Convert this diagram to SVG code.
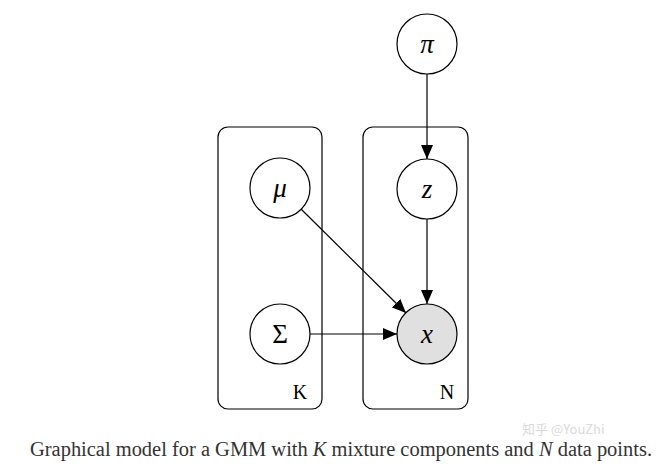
<svg xmlns="http://www.w3.org/2000/svg" width="665" height="471" viewBox="0 0 665 471">
<style>
.n{fill:#fff;stroke:#000;stroke-width:1.2}
.p{fill:none;stroke:#000;stroke-width:1.2}
.e{stroke:#000;stroke-width:1.2;fill:none;marker-end:url(#a)}
.m{font-family:"Liberation Serif",serif;font-style:italic;font-size:27px;text-anchor:middle}
.l{font-family:"Liberation Serif",serif;font-size:20px;text-anchor:middle}
</style>
<defs><marker id="a" viewBox="0 0 14 12" refX="14" refY="6" markerWidth="14" markerHeight="12" markerUnits="userSpaceOnUse" orient="auto"><path d="M0,0L14,6L0,12z"/></marker></defs>
<rect width="665" height="471" fill="#fff"/>
<g id="plateK"><rect class="p" x="218" y="127" width="104" height="282" rx="10"/><text class="l" x="300" y="399">K</text></g>
<g id="plateN"><rect class="p" x="363" y="127" width="105" height="282" rx="10"/><text class="l" x="447" y="399">N</text></g>
<g id="edges">
<line class="e" x1="427" y1="74" x2="427" y2="159"/>
<line class="e" x1="427" y1="219" x2="427" y2="304"/>
<line class="e" x1="301" y1="209" x2="406" y2="313"/>
<line class="e" x1="310" y1="334" x2="397" y2="334"/>
</g>
<g id="pi"><circle class="n" cx="427" cy="44" r="30"/><text class="m" x="427" y="53">π</text></g>
<g id="z"><circle class="n" cx="427" cy="189" r="30"/><text class="m" x="427" y="198">z</text></g>
<g id="x"><circle class="n" cx="427" cy="334" r="30" style="fill:#e0e0e0"/><text class="m" x="427" y="343">x</text></g>
<g id="mu"><circle class="n" cx="280" cy="188" r="30"/><text class="m" x="280" y="197">μ</text></g>
<g id="sigma"><circle class="n" cx="280" cy="334" r="30"/><text class="m" x="280" y="343" style="font-style:normal">Σ</text></g>
<text x="30" y="456" font-family="Liberation Serif,serif" font-size="20.5" fill="#333" textLength="622" lengthAdjust="spacingAndGlyphs">Graphical model for a GMM with <tspan font-style="italic">K</tspan> mixture components and <tspan font-style="italic">N</tspan> data points.</text>
<text x="522" y="434" font-family="Noto Sans CJK SC,sans-serif" font-size="13" fill="#ccc" opacity="0.7">知乎 @YouZhi</text>
</svg>
